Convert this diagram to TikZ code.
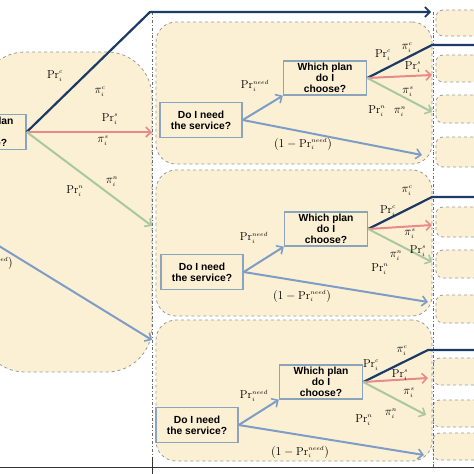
\documentclass[tikz,border=0pt]{standalone}
\usepackage{fontspec}
\newfontfamily\arialb{Liberation Sans}
\usetikzlibrary{arrows.meta}
\definecolor{navy}{HTML}{1B3A66}
\definecolor{pinkred}{HTML}{E8898C}
\definecolor{paleg}{HTML}{A9C8A1}
\definecolor{steel}{HTML}{7E9DC6}
\definecolor{cream}{HTML}{FCF0D4}
\definecolor{boxline}{HTML}{8AA4BC}
\definecolor{dashg}{HTML}{9A9A9A}
\newcommand{\PrL}[1]{\mathrm{Pr}_{\scriptscriptstyle i}^{\scriptscriptstyle #1}}
\newcommand{\PiL}[1]{\pi_{\scriptscriptstyle i}^{\scriptscriptstyle #1}}
\tikzset{
  region/.style={draw=dashg, dashed, fill=cream, line width=0.8pt, rectangle},
  qbox/.style={draw=boxline, fill=cream, line width=1.4pt, rectangle, align=center,
    font=\arialb\bfseries\fontsize{10.3}{11.2}\selectfont, inner sep=1pt},
  outbox/.style={region, rounded corners=7pt, minimum width=50pt},
  tip/.style={-{Straight Barb[length=5pt,width=10pt,line width=1.6pt]}},
  navyline/.style={draw=navy, line width=2.2pt},
  redline/.style={draw=pinkred, line width=2pt, tip},
  greenline/.style={draw=paleg, line width=2pt, tip},
  blueline/.style={draw=steel, line width=2pt, tip},
  lbl/.style={font=\fontsize{11.5}{13}\selectfont, inner sep=0pt},
  divider/.style={draw=dashg!70!black, line width=0.8pt, dash dot},
}
\begin{document}
\begin{tikzpicture}[x=1pt,y=-1pt]
\useasboundingbox (0,0) rectangle (474,474);
\clip (0,0) rectangle (474,474);
\fill[white] (0,0) rectangle (474,474);

% regions
\node[region, rounded corners=45pt, minimum width=172pt, minimum height=320pt] (reg0) at (66,212) {};
\node[region, rounded corners=20pt, minimum width=276pt, minimum height=142pt] (reg1) at (294,93) {};
\node[region, rounded corners=20pt, minimum width=276pt, minimum height=146pt] (reg2) at (294,243) {};
\node[region, rounded corners=20pt, minimum width=276pt, minimum height=141pt] (reg3) at (294,390.5) {};

% right column outcome boxes
\node[outbox, minimum height=26pt] (o0) at (461,23) {};
\node[outbox, minimum height=27pt] (o1) at (461,68.5) {};
\node[outbox, minimum height=28pt] (o2) at (461,109) {};
\node[outbox, minimum height=30pt] (o3) at (461,152) {};
\node[outbox, minimum height=30pt] (o4) at (461,222) {};
\node[outbox, minimum height=28pt] (o5) at (461,264) {};
\node[outbox, minimum height=28pt] (o6) at (461,309) {};
\node[outbox, minimum height=27pt] (o7) at (458,371.5) {};
\node[outbox, minimum height=27pt] (o8) at (458,413.5) {};
\node[outbox, minimum height=27pt] (o9) at (458,446.5) {};

% dividers
\coordinate (d1t) at (152,12);
\coordinate (d1b) at (152,474);
\coordinate (d2t) at (433,12);
\coordinate (d2b) at (433,467);
\draw[divider] (d1t) -- (d1b);
\draw[divider] (d2t) -- (d2b);
\coordinate (bl) at (0,467);
\coordinate (br) at (474,467);
\draw[black!80, line width=1pt] (bl) -- (br);
\coordinate (tk1) at (152,457);
\coordinate (tk2) at (152,474);
\draw[black!80, line width=1pt] (tk1) -- (tk2);

% question boxes
\node[qbox, minimum width=80pt, minimum height=35pt] (lw) at (-14,132) {Which plan\\do I\\choose?};
\node[qbox, minimum width=82pt, minimum height=35pt] (n1) at (201,120) {Do I need\\the service?};
\node[qbox, minimum width=83pt, minimum height=34pt] (w1) at (325,78) {Which plan\\do I\\choose?};
\node[qbox, minimum width=82pt, minimum height=35pt] (n2) at (202,272) {Do I need\\the service?};
\node[qbox, minimum width=83pt, minimum height=34pt] (w2) at (326,229) {Which plan\\do I\\choose?};
\node[qbox, minimum width=82pt, minimum height=35pt] (n3) at (197,425) {Do I need\\the service?};
\node[qbox, minimum width=83pt, minimum height=34pt] (w3) at (321,382) {Which plan\\do I\\choose?};

% left-level connectors
\coordinate (lnb) at (150,12);
\coordinate (lna) at (431,12);
\coordinate (lr) at (152,132);
\coordinate (lg) at (152,226);
\coordinate (lbs) at (-40,222);
\coordinate (lbe) at (152,340);
\draw[navyline, line join=round, tip] (lw.east) -- (lnb) -- (lna);
\draw[redline] (lw.east) -- (lr);
\draw[greenline] (lw.east) -- (lg);
\draw[blueline] (lbs) -- (lbe);

\node[lbl] (l1) at (55,76) {$\PrL{c}$};
\node[lbl] (l2) at (100,92) {$\PiL{c}$};
\node[lbl] (l3) at (110,119) {$\PrL{s}$};
\node[lbl] (l4) at (103,141) {$\PiL{s}$};
\node[lbl] (l5) at (112,182) {$\PiL{n}$};
\node[lbl] (l6) at (75,191) {$\PrL{n}$};
\node[lbl, anchor=east] (l7) at (13,263) {$(1-\PrL{need})$};

% region 1
\coordinate (b1n) at (432,45);
\coordinate (e1n) at (480,45);
\coordinate (b1r) at (432,75);
\coordinate (b1g) at (432,112);
\coordinate (b1b) at (422,155);
\draw[navyline, line join=round] (w1.east) -- (b1n) -- (e1n);
\draw[redline] (w1.east) -- (b1r);
\draw[greenline] (w1.east) -- (b1g);
\draw[blueline] (n1.east) -- (w1.south west);
\draw[blueline] (n1.east) -- (b1b);
\node[lbl] (a1) at (255,86) {$\PrL{need}$};
\node[lbl] (a2) at (303,144) {$(1-\PrL{need})$};
\node[lbl] (a3) at (383,55) {$\PrL{c}$};
\node[lbl] (a4) at (407,48) {$\PiL{c}$};
\node[lbl] (a5) at (413,67) {$\PrL{s}$};
\node[lbl] (a6) at (408,92) {$\PiL{s}$};
\node[lbl] (a7) at (377,111) {$\PrL{n}$};
\node[lbl] (a8) at (400,112) {$\PiL{n}$};

% region 2
\coordinate (b2n) at (432,197);
\coordinate (e2n) at (480,197);
\coordinate (b2r) at (432,225);
\coordinate (b2g) at (432,262);
\coordinate (b2b) at (428,302);
\draw[navyline, line join=round] (w2.east) -- (b2n) -- (e2n);
\draw[redline] (w2.east) -- (b2r);
\draw[greenline] (w2.east) -- (b2g);
\draw[blueline] (n2.east) -- (w2.south west);
\draw[blueline] (n2.east) -- (b2b);
\node[lbl] (c1) at (254,238) {$\PrL{need}$};
\node[lbl] (c2) at (302,296) {$(1-\PrL{need})$};
\node[lbl] (c3) at (407,191) {$\PiL{c}$};
\node[lbl] (c4) at (388,211) {$\PrL{c}$};
\node[lbl] (c5) at (410,234) {$\PiL{s}$};
\node[lbl] (c6) at (418,251) {$\PrL{s}$};
\node[lbl] (c7) at (396,256) {$\PiL{n}$};
\node[lbl] (c8) at (380,269) {$\PrL{n}$};

% region 3
\coordinate (b3n) at (428,350);
\coordinate (e3n) at (480,350);
\coordinate (b3r) at (428,378);
\coordinate (b3g) at (426,415);
\coordinate (b3b) at (424,455);
\draw[navyline, line join=round] (w3.east) -- (b3n) -- (e3n);
\draw[redline] (w3.east) -- (b3r);
\draw[greenline] (w3.east) -- (b3g);
\draw[blueline] (n3.east) -- (w3.south west);
\draw[blueline] (n3.east) -- (b3b);
\node[lbl] (f1) at (254,396) {$\PrL{need}$};
\node[lbl] (f2) at (300,452) {$(1-\PrL{need})$};
\node[lbl] (f3) at (371,365) {$\PrL{c}$};
\node[lbl] (f4) at (402,351) {$\PiL{c}$};
\node[lbl] (f5) at (400,375) {$\PrL{s}$};
\node[lbl] (f6) at (409,393) {$\PiL{s}$};
\node[lbl] (f7) at (364,420) {$\PrL{n}$};
\node[lbl] (f8) at (391,414) {$\PiL{n}$};
\end{tikzpicture}
\end{document}
